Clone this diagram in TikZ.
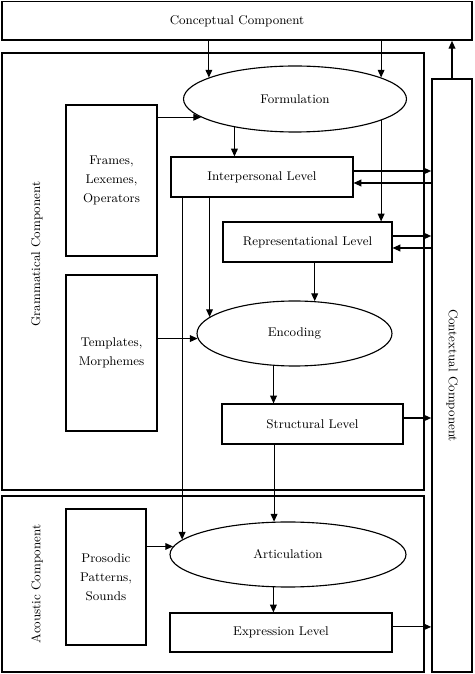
\documentclass[tikz,border=0pt]{standalone}
\usepackage{tikz}
\usetikzlibrary{shapes.geometric, arrows.meta, positioning}

\begin{document}
\begin{tikzpicture}[font=\fontsize{9}{13.5}\selectfont,
    >={Triangle[length=5.5pt,width=4.8pt]}, line width=0.8pt,
    level/.style={draw, minimum height=1cm},
    process/.style={draw, ellipse, minimum height=1.625cm},
    store/.style={draw, align=center, minimum width=2.275cm},
    compbox/.style={draw, line width=1.2pt}]
  \useasboundingbox (0,0) rectangle (11.85,16.85);
  % the outer components
  \node[compbox, minimum width=11.75cm, minimum height=0.96cm] (concept) at (5.925,16.33) {Conceptual Component};
  \node[compbox, minimum width=1cm, minimum height=14.825cm] (context) at (11.3,7.4625) {};
  \node[rotate=-90] (contextlabel) at (context) {Contextual Component};
  \draw[compbox] (0.05,4.6) rectangle (10.6,15.525);
  \draw[compbox] (0.05,0.05) rectangle (10.6,4.45);
  \node[rotate=90] (gramlabel) at (0.925,10.5) {Grammatical Component};
  \node[rotate=90] (acoulabel) at (0.925,2.25) {Acoustic Component};

  % levels and operations
  \node[process, minimum width=5.575cm, minimum height=1.65cm] (form) at (7.375,14.375) {Formulation};
  \node[level, minimum width=4.55cm] (inter) at (6.55,12.425) {Interpersonal Level};
  \node[level, minimum width=4.225cm] (repr) at (7.6875,10.8) {Representational Level};
  \node[process, minimum width=4.875cm] (enc) at (7.3625,8.5125) {Encoding};
  \node[level, minimum width=4.525cm] (struct) at (7.8125,6.25) {Structural Level};
  \node[process, minimum width=5.9cm] (artic) at (7.2,2.9875) {Articulation};
  \node[level, minimum width=5.55cm, minimum height=0.975cm] (expr) at (7.025,1.0375) {Expression Level};

  % primitives
  \node[store, minimum height=3.775cm] (frames) at (2.7875,12.3375) {Frames,\\Lexemes,\\Operators};
  \node[store, minimum height=3.9cm] (templ) at (2.7875,8.025) {Templates,\\Morphemes};
  \node[store, minimum width=2cm, minimum height=3.4cm] (pros) at (2.65,2.425) {Prosodic\\Patterns,\\Sounds};

  % connectors
  \draw[->] (concept.south -| form.166.3) -- (form.166.3);
  \draw[->] (concept.south -| form.14.5) -- (form.14.5);
  \draw[->] (context.north) -- (context.north |- concept.south);
  \draw[->] (frames.east |- form.191.8) -- (form.191.8);
  \draw[->] (form.205.4) -- (form.205.4 |- inter.north);
  \draw[->] (form.-14.5) -- (form.-14.5 |- repr.north);
  \draw[->] ([yshift=0.15cm]inter.east) -- ([yshift=0.15cm]inter.east -| context.west);
  \draw[<-] ([yshift=-0.15cm]inter.east) -- ([yshift=-0.15cm]inter.east -| context.west);
  \draw[->] ([yshift=0.15cm]repr.east) -- ([yshift=0.15cm]repr.east -| context.west);
  \draw[<-] ([yshift=-0.15cm]repr.east) -- ([yshift=-0.15cm]repr.east -| context.west);
  \draw[->] (inter.south -| enc.169.7) -- (enc.169.7);
  \draw[->] (inter.south -| artic.172) -- (artic.172);
  \draw[->] (repr.south -| enc.58.5) -- (enc.58.5);
  \draw[->] (templ.east |- enc.183.9) -- (enc.183.9);
  \draw[->] (enc.237.2) -- (enc.237.2 |- struct.north);
  \draw[->] ([yshift=0.15cm]struct.east) -- ([yshift=0.15cm]struct.east -| context.west);
  \draw[->] (struct.south -| artic.113.4) -- (artic.113.4);
  \draw[->] (pros.east |- artic.176.8) -- (artic.176.8);
  \draw[->] (artic.246.6) -- (artic.246.6 |- expr.north);
  \draw[->] ([yshift=0.14cm]expr.east) -- ([yshift=0.14cm]expr.east -| context.west);
\end{tikzpicture}
\end{document}
